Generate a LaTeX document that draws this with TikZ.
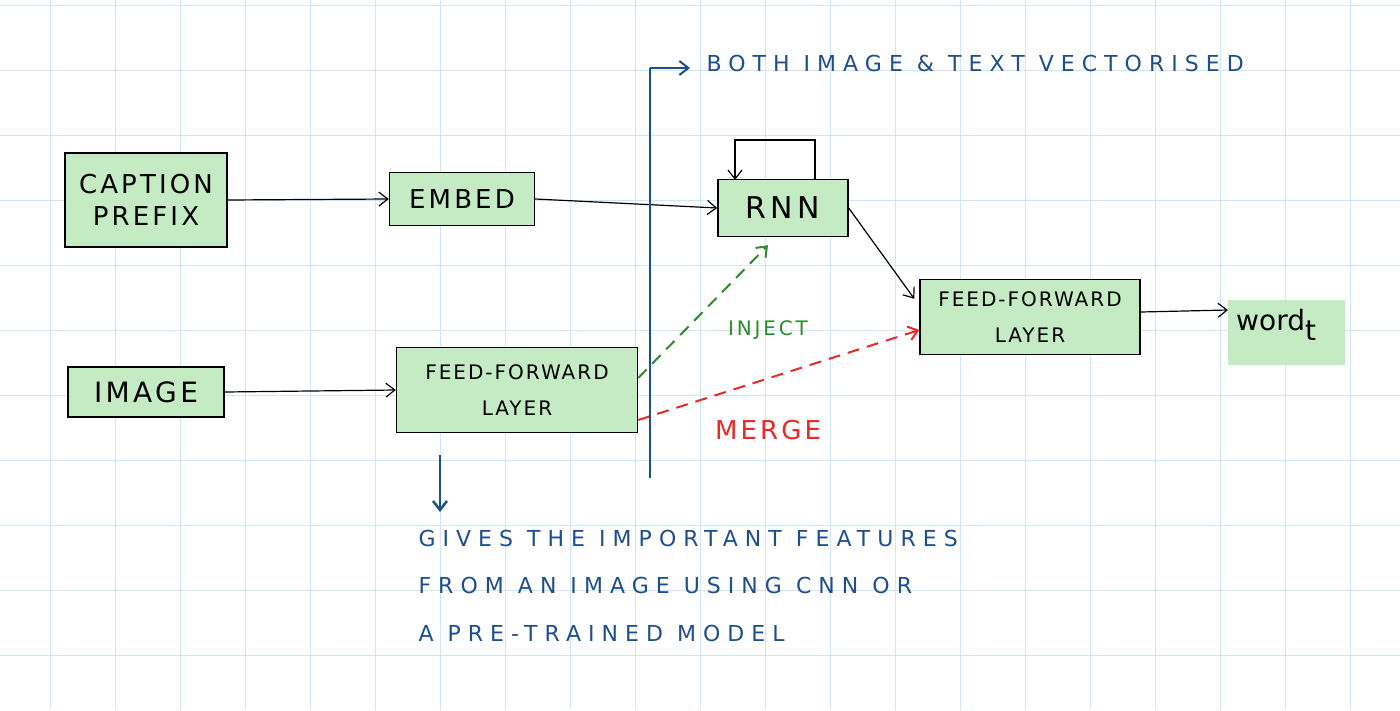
\documentclass[tikz,border=0pt]{standalone}
\usepackage{fontspec}
\setmainfont{DejaVu Sans}
\usetikzlibrary{arrows.meta}
\definecolor{gridc}{HTML}{CFE6F7}
\definecolor{boxg}{HTML}{C4EBC4}
\definecolor{inkb}{HTML}{1F4E8C}
\definecolor{injg}{HTML}{2E8B2E}
\definecolor{merr}{HTML}{E52A2A}
\tikzset{
 box/.style={draw=black,line width=1.4pt,fill=boxg,inner sep=0pt},
 lbl/.style={font=\fontsize{26}{32}\selectfont\addfontfeatures{LetterSpace=12},align=center},
 ffl/.style={font=\fontsize{20}{36}\selectfont\addfontfeatures{LetterSpace=10},align=center},
 note/.style={font=\fontsize{22}{24}\selectfont\addfontfeatures{LetterSpace=32},text=inkb,anchor=west},
 conn/.style={line width=1.2pt,-{Straight Barb[length=9pt,width=14pt]}},
}
\begin{document}
\begin{tikzpicture}[x=1pt,y=-1pt]
\useasboundingbox (0,0) rectangle (1400,710);
\fill[white] (0,0) rectangle (1400,710);
\foreach \x in {50,115,...,1400} \draw[gridc,line width=1pt] (\x,0) -- (\x,710);
\foreach \y in {5,70,...,710} \draw[gridc,line width=1pt] (0,\y) -- (1400,\y);
% boxes
\node[box,minimum width=162pt,minimum height=94pt] (cap) at (146,200) {};
\node[lbl] at (cap) {CAPTION\\PREFIX};
\node[box,minimum width=145pt,minimum height=53pt] (emb) at (462,199) {};
\node[lbl] at (emb) {EMBED};
\node[box,minimum width=130pt,minimum height=57pt] (rnn) at (783,208) {};
\node[lbl,font=\fontsize{30}{32}\selectfont\addfontfeatures{LetterSpace=15}] at (rnn) {RNN};
\node[box,minimum width=220pt,minimum height=75pt] (ff2) at (1030,317) {};
\node[ffl] at (ff2) {FEED-FORWARD\\LAYER};
\fill[boxg] (1228,300) rectangle (1345,365);
\node[font=\fontsize{28}{30}\selectfont,anchor=west,inner sep=0pt] (word) at (1236,325) {word\raisebox{-10pt}{t}};
\node[box,minimum width=156pt,minimum height=50pt] (img) at (146,392) {};
\node[lbl,font=\fontsize{28}{32}\selectfont\addfontfeatures{LetterSpace=12}] at (img) {IMAGE};
\node[box,minimum width=241pt,minimum height=85pt] (ff1) at (517,390) {};
\node[ffl] at (ff1) {FEED-FORWARD\\LAYER};
% loop
\draw[conn] (815,180) -- (815,140) -- (735,140) -- (735,180);
% connectors
\draw[conn] (cap.east) -- (emb.west);
\draw[conn] (emb.east) -- (rnn.west);
\draw[conn] (rnn.east) -- ([xshift=-5pt,yshift=-20pt]ff2.north west);
\draw[conn] ([yshift=5pt]ff2.east) -- (1228,310);
\draw[conn] (img.east) -- (ff1.west);
\draw[conn,dash pattern=on 12pt off 8pt,injg,line width=2pt] ([yshift=12pt]ff1.east) -- ([xshift=-15pt,yshift=-8pt]rnn.south);
\draw[conn,dash pattern=on 12pt off 8pt,merr,line width=2pt] ([yshift=-30pt]ff1.east) -- ([yshift=-13pt]ff2.west);
\node[text=injg,font=\fontsize{20}{22}\selectfont\addfontfeatures{LetterSpace=14}] at (768,330) {INJECT};
\node[text=merr,font=\fontsize{26}{28}\selectfont\addfontfeatures{LetterSpace=12}] at (768,430) {MERGE};
% vertical line
\coordinate (vt) at (650,68);
\coordinate (vb) at (650,478);
\coordinate (vr) at (690,68);
\draw[inkb,line width=2pt] (vb) -- (vt);
\draw[conn,inkb,line width=2pt] (vt) -- (vr);
\node[note] at (703,63) {BOTH IMAGE \& TEXT VECTORISED};
% down arrow
\coordinate (da) at (440,455);
\coordinate (db) at (440,512);
\draw[conn,inkb,line width=2.5pt] (da) -- (db);
\node[note] at (415,538) {GIVES THE IMPORTANT FEATURES};
\node[note] at (415,585) {FROM AN IMAGE USING CNN OR};
\node[note] at (415,633) {A PRE-TRAINED MODEL};
\end{tikzpicture}
\end{document}
